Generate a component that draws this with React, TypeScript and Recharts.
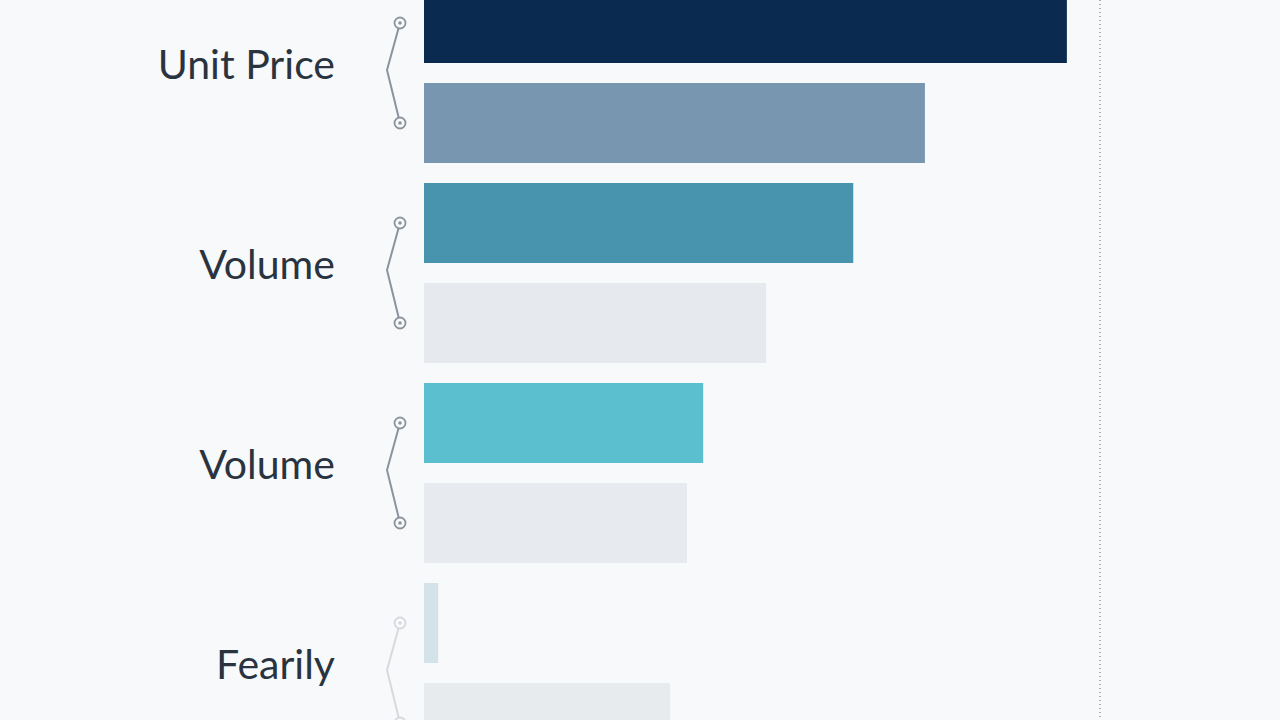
import React from 'react';
import { BarChart, Bar, XAxis, YAxis, Cell, ReferenceLine } from 'recharts';

const barKeys = ['up-a', 'up-b', 'vol1-a', 'vol1-b', 'vol2-a', 'vol2-b', 'fe-a', 'fe-b'];
const barValues = [95.1, 74.1, 63.5, 50.6, 41.3, 38.9, 2.1, 36.4];
const barColors = ['#0b2a4f', '#7896b0', '#4893ad', '#e6e9ed', '#5bbfcf', '#e7eaee', '#d4e3e9', '#e8ebee'];
const groupLabels = ['Unit Price', 'Volume', 'Volume', 'Fearily'];
const groupFade = [1, 1, 1, 0.3];

const data = barKeys.map((k, i) => ({ key: k, value: barValues[i] }));

const W = 1280;
const H = 800;
const BAND = H / barKeys.length;

function GroupTick(props: any) {
  const { y, index } = props;
  if (index % 2 !== 0) return null;
  const g = index / 2;
  const cx = 400;
  const px = 387;
  const y1 = y;
  const y2 = y + BAND;
  const mid = (y1 + y2) / 2;
  const stroke = '#8b949d';
  return (
    <g>
      <g opacity={groupFade[g]}>
        <polyline points={`${cx},${y1} ${px},${mid - 3} ${cx},${y2}`} fill="none" stroke={stroke} strokeWidth={2} />
        {[y1, y2].map((cy, j) => (
          <g key={j}>
            <circle cx={cx} cy={cy} r={5.5} fill="#f7f9fb" stroke={stroke} strokeWidth={1.8} />
            <circle cx={cx} cy={cy} r={1.8} fill={stroke} />
          </g>
        ))}
      </g>
      <text
        x={335}
        y={mid - 10}
        textAnchor="end"
        dominantBaseline="central"
        fontFamily="Lato, 'Open Sans', sans-serif"
        fontSize={41}
        fill="#2a3440"
      >
        {groupLabels[g]}
      </text>
    </g>
  );
}

export default function App() {
  return (
    <div style={{ position: 'fixed', left: 0, top: 0, width: W, height: 720, overflow: 'hidden', background: '#f7f9fb' }}>
      <div style={{ marginTop: -27 }}>
        <BarChart
          width={W}
          height={H}
          data={data}
          layout="vertical"
          margin={{ top: 0, right: 180, bottom: 0, left: 0 }}
          barCategoryGap={10}
        >
          <XAxis type="number" domain={[0, 100]} hide />
          <YAxis type="category" dataKey="key" width={424} axisLine={false} tickLine={false} tick={<GroupTick />} interval={0} />
          <ReferenceLine x={100} stroke="#9fb0bf" strokeWidth={2} strokeDasharray="1 3" />
          <Bar dataKey="value" isAnimationActive={false}>
            {data.map((d, i) => (
              <Cell key={d.key} fill={barColors[i]} />
            ))}
          </Bar>
        </BarChart>
      </div>
    </div>
  );
}
